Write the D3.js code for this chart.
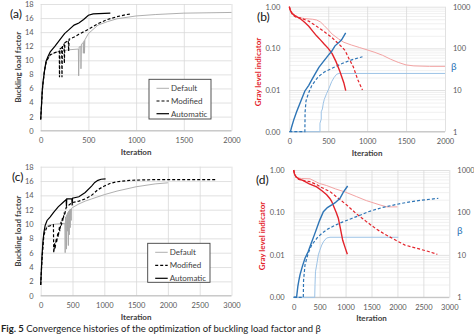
<!DOCTYPE html>
<html><head><meta charset="utf-8">
<script src="https://cdn.jsdelivr.net/npm/d3@7"></script>
<style>
body{margin:0;background:#fff}
svg{display:block}
text{font-family:Lato,"Open Sans",sans-serif}
</style>
</head><body>
<svg id="chart" width="474" height="335"></svg>
<script>
// ---------- tick labels / categories ----------
const iterTicksA = [0, 500, 1000, 1500, 2000];
const iterTicksC = [0, 500, 1000, 1500, 2000, 2500, 3000];
const loadTicks = [0, 2, 4, 6, 8, 10, 12, 14, 16, 18];
const grayTicks = [0.001, 0.01, 0.1, 1];
const grayTickLabels = ["0.00", "0.01", "0.10", "1.00"];
const betaTicks = [1, 10, 100, 1000];
const legendLabels = ["Default", "Modified", "Automatic"];

// ---------- panel (a): [iteration, buckling load factor] ----------
const aDefault = [[0,1.6],[10,4],[20,6],[40,8.5],[60,9.8],[100,10.7],[150,11.1],[200,11.3],[300,11.5],[395,11.6],[398,7.8],[403,11.9],[420,12],[422,8.8],[427,12.3],[445,12.5],[447,11],[452,12.7],[457,12.8],[459,11],[463,12.9],[500,13.8],[600,15],[700,15.5],[800,15.9],[1000,16.3],[1200,16.5],[1500,16.7],[2000,16.8]];
const aModified = [[0,1.6],[10,4],[20,6.2],[40,8.6],[60,9.9],[100,10.8],[150,11.1],[195,11.3],[197,7.6],[202,11.6],[220,11.8],[223,7.6],[228,12.1],[245,12.3],[248,9.6],[253,12.5],[290,12.8],[293,11.3],[298,13],[350,13.3],[400,13.7],[500,14.4],[600,15.2],[700,15.8],[800,16.2],[900,16.5],[950,16.6]];
const aAutomatic = [[0,1.6],[8,3.5],[15,5.5],[25,7],[40,8.5],[55,9.8],[75,10.5],[100,11.2],[150,12],[200,12.9],[250,13.8],[300,14.4],[350,15],[400,15.3],[450,15.8],[500,16.4],[550,16.6],[730,16.7]];

// ---------- panel (c): [iteration, buckling load factor] ----------
const cDefault = [[0,1.5],[20,5],[40,8],[60,9],[100,9.7],[150,9.9],[250,10],[380,10.1],[385,6],[390,11],[400,10.5],[405,6.5],[410,11.3],[420,9],[425,11.6],[435,7],[440,11.8],[450,8.5],[455,12],[465,9.5],[470,12.1],[480,10.5],[485,12.2],[500,12.3],[600,12.8],[700,13.2],[800,13.5],[1000,14.1],[1200,14.6],[1500,15.2],[1800,15.6],[2000,15.75]];
const cModified = [[0,1.5],[20,5],[50,8.5],[100,9.6],[200,9.9],[205,6],[220,7.3],[225,6.5],[245,8],[250,7.4],[270,8.8],[275,8.2],[295,9.6],[300,9],[320,10.3],[325,9.8],[345,11],[350,10.5],[370,11.6],[375,11.2],[400,12.3],[450,12.7],[500,13],[600,13.2],[700,13.5],[800,14],[900,14.8],[1000,15.3],[1100,15.7],[1200,15.9],[1400,16.1],[1800,16.2],[2750,16.2]];
const cAutomatic = [[0,1.5],[10,3.5],[20,5.5],[35,7.5],[50,8.8],[70,9.8],[100,10.5],[150,11],[200,11.6],[275,12.4],[350,13],[400,13.4],[405,12.4],[410,13.5],[490,13.5],[495,12.6],[500,13.6],[600,13.8],[700,14.4],[800,15.3],[850,15.8],[900,16.1],[950,16.25],[1020,16.3]];

// ---------- panel (b): gray level indicator [iteration, value] and beta [iteration, value] ----------
const bGrayDefault = [[0,1],[15,0.8],[50,0.62],[100,0.55],[200,0.52],[300,0.5],[350,0.48],[400,0.43],[450,0.35],[500,0.28],[550,0.22],[630,0.17],[700,0.14],[800,0.12],[900,0.105],[1000,0.092],[1100,0.08],[1200,0.068],[1300,0.055],[1400,0.046],[1500,0.04],[1600,0.038],[1800,0.037],[2000,0.037]];
const bGrayModified = [[0,1],[15,0.8],[40,0.65],[80,0.57],[150,0.53],[250,0.45],[350,0.34],[450,0.25],[550,0.18],[650,0.12],[715,0.09],[770,0.055],[822,0.036],[878,0.018],[940,0.01]];
const bGrayAutomatic = [[0,1],[15,0.8],[40,0.68],[80,0.6],[150,0.5],[200,0.42],[250,0.34],[300,0.26],[350,0.2],[400,0.16],[450,0.125],[500,0.1],[550,0.075],[600,0.048],[650,0.028],[700,0.015],[725,0.0097]];
const bBetaDefault = [[0,1],[394,1],[394,1.6],[410,2],[410,3],[425,3.5],[437,4.8],[450,6],[480,8.3],[510,11],[545,16],[575,20],[609,24],[640,25],[2000,25]];
const bBetaModified = [[0,1],[200,1],[203,3],[215,5.5],[245,8.3],[290,13],[373,21],[450,27],[587,36],[700,45],[801,53],[940,63]];
const bBetaAutomatic = [[15,1],[30,1.3],[60,2],[94,3],[150,5.5],[200,9.5],[250,13],[288,17.5],[330,24],[380,35],[437,48],[500,68],[544,85],[587,115],[640,140],[672,160],[724,235]];

// ---------- panel (d) ----------
const dGrayDefault = [[0,1],[15,0.8],[50,0.66],[150,0.63],[314,0.62],[400,0.55],[500,0.48],[636,0.43],[800,0.36],[1000,0.3],[1215,0.235],[1400,0.19],[1664,0.15],[1800,0.135],[2000,0.135]];
const dGrayModified = [[0,1],[15,0.8],[50,0.67],[100,0.6],[200,0.56],[314,0.53],[450,0.45],[550,0.38],[700,0.31],[850,0.22],[1022,0.15],[1200,0.095],[1407,0.06],[1600,0.04],[1793,0.029],[2000,0.021],[2146,0.017],[2400,0.014],[2600,0.012],[2769,0.0103]];
const dGrayAutomatic = [[0,1],[15,0.8],[50,0.68],[100,0.62],[185,0.56],[300,0.47],[443,0.4],[550,0.32],[636,0.26],[700,0.21],[733,0.18],[780,0.13],[820,0.1],[860,0.073],[900,0.042],[945,0.022],[990,0.015],[1034,0.0103]];
const dBetaDefault = [[0,1],[405,1],[411,2],[420,4],[450,6.5],[475,10],[500,12.5],[540,17],[580,21],[636,25],[700,26],[2017,26]];
const dBetaModified = [[0,1],[185,1],[190,2.5],[218,5.8],[280,11],[347,17],[450,25],[540,32],[650,40],[797,50],[950,60],[1118,72],[1300,88],[1439,104],[1700,130],[2081,164],[2400,190],[2788,215]];
const dBetaAutomatic = [[0,1],[55,1],[80,1.8],[100,2.5],[122,3.4],[170,5.5],[218,8.3],[280,12],[347,20],[400,30],[443,42],[500,65],[572,104],[650,130],[733,150],[800,170],[893,215],[957,300],[1040,420]];

// ---------- styles ----------
const GRID = "#d9d9d9", MINOR = "#ececec", TICK = "#595959", TITLE = "#404040";
const RED = "#e3232b", REDL = "#f3a3a3", BLUE = "#2e75b6", BLUEL = "#9dc3e6";

const svg = d3.select("#chart");

function lineGen(x, y) {
  return d3.line().x(d => x(d[0])).y(d => y(d[1]));
}

function drawLoadPanel(o) {
  const g = svg.append("g");
  const x = d3.scaleLinear().domain([0, o.xmax]).range([o.x0, o.x1]);
  const y = d3.scaleLinear().domain([0, 18]).range([o.y0, o.y1]);
  g.append("g").attr("transform", `translate(0,${o.y0})`)
    .call(d3.axisBottom(x).tickValues(o.xticks).tickSize(-(o.y0 - o.y1)).tickFormat(""))
    .call(s => s.select(".domain").remove())
    .call(s => s.selectAll("line").attr("stroke", GRID).attr("stroke-width", 0.8));
  g.append("g").attr("transform", `translate(${o.x0},0)`)
    .call(d3.axisLeft(y).tickValues(loadTicks).tickSize(-(o.x1 - o.x0)).tickFormat(""))
    .call(s => s.select(".domain").remove())
    .call(s => s.selectAll("line").attr("stroke", GRID).attr("stroke-width", 0.8));
  g.append("line").attr("x1", o.x0).attr("x2", o.x1).attr("y1", o.y0).attr("y2", o.y0).attr("stroke", "#bfbfbf");
  g.append("g").attr("transform", `translate(0,${o.y0 + 4})`)
    .call(d3.axisBottom(x).tickValues(o.xticks).tickSize(0).tickFormat(d3.format("d")))
    .call(s => s.select(".domain").remove())
    .call(s => s.selectAll("text").attr("fill", TICK).attr("font-size", 7.5));
  g.append("g").attr("transform", `translate(${o.x0 - 4},0)`)
    .call(d3.axisLeft(y).tickValues(loadTicks).tickSize(0).tickFormat(d3.format("d")))
    .call(s => s.select(".domain").remove())
    .call(s => s.selectAll("text").attr("fill", TICK).attr("font-size", 7.5));
  const lg = lineGen(x, y);
  g.append("path").attr("d", lg(o.def)).attr("fill", "none").attr("stroke", "#a6a6a6").attr("stroke-width", 0.9);
  g.append("path").attr("d", lg(o.mod)).attr("fill", "none").attr("stroke", "#000").attr("stroke-width", 1.2).attr("stroke-dasharray", "3,2");
  g.append("path").attr("d", lg(o.auto)).attr("fill", "none").attr("stroke", "#000").attr("stroke-width", 1.2);
  g.append("text").attr("x", (o.x0 + o.x1) / 2).attr("y", o.y0 + 24).attr("text-anchor", "middle")
    .attr("font-size", 8).attr("font-weight", "bold").attr("fill", TITLE).text("Iteration");
  g.append("text").attr("transform", `translate(${o.ytx},${(o.y0 + o.y1) / 2}) rotate(-90)`)
    .attr("text-anchor", "middle").attr("font-size", 8).attr("font-weight", "bold").attr("fill", TITLE).text("Buckling load factor");
  g.append("text").attr("x", o.lx).attr("y", o.ly).attr("font-size", 12).attr("fill", "#111").text(o.label);
  const L = o.legend;
  g.append("rect").attr("x", L.x).attr("y", L.y).attr("width", L.w).attr("height", L.h)
    .attr("fill", "#fff").attr("stroke", "#404040").attr("stroke-width", 0.9);
  const styles = [{c: "#a6a6a6", w: 0.9, d: null}, {c: "#000", w: 1.2, d: "3,2"}, {c: "#000", w: 1.2, d: null}];
  legendLabels.forEach((t, i) => {
    const yy = L.y + 9 + i * L.step;
    g.append("line").attr("x1", L.x + 7.5).attr("x2", L.x + 20).attr("y1", yy).attr("y2", yy)
      .attr("stroke", styles[i].c).attr("stroke-width", styles[i].w).attr("stroke-dasharray", styles[i].d);
    g.append("text").attr("x", L.x + 22).attr("y", yy + 2.8).attr("font-size", 8).attr("fill", TITLE).text(t);
  });
}

function drawGrayPanel(o) {
  const g = svg.append("g");
  const x = d3.scaleLinear().domain([0, o.xmax]).range([o.x0, o.x1]);
  const yL = d3.scaleLog().domain([0.001, 1]).range([o.y0, o.y1]);
  const yR = d3.scaleLog().domain([1, 1000]).range([o.y0, o.y1]);
  const minors = [];
  [0.001, 0.01, 0.1].forEach(b => { for (let k = 2; k <= 9; k++) minors.push(b * k); });
  g.append("g").attr("transform", `translate(${o.x0},0)`)
    .call(d3.axisLeft(yL).tickValues(minors).tickSize(-(o.x1 - o.x0)).tickFormat(""))
    .call(s => s.select(".domain").remove())
    .call(s => s.selectAll("line").attr("stroke", MINOR).attr("stroke-width", 0.8));
  g.append("g").attr("transform", `translate(0,${o.y0})`)
    .call(d3.axisBottom(x).tickValues(o.xticks).tickSize(-(o.y0 - o.y1)).tickFormat(""))
    .call(s => s.select(".domain").remove())
    .call(s => s.selectAll("line").attr("stroke", GRID).attr("stroke-width", 0.8));
  g.append("g").attr("transform", `translate(${o.x0},0)`)
    .call(d3.axisLeft(yL).tickValues(grayTicks).tickSize(-(o.x1 - o.x0)).tickFormat(""))
    .call(s => s.select(".domain").remove())
    .call(s => s.selectAll("line").attr("stroke", GRID).attr("stroke-width", 0.8));
  g.append("line").attr("x1", o.x0).attr("x2", o.x1).attr("y1", o.y0).attr("y2", o.y0).attr("stroke", "#bfbfbf");
  g.append("g").attr("transform", `translate(0,${o.y0 + 4})`)
    .call(d3.axisBottom(x).tickValues(o.xticks).tickSize(0).tickFormat(d3.format("d")))
    .call(s => s.select(".domain").remove())
    .call(s => s.selectAll("text").attr("fill", TICK).attr("font-size", 7.5));
  g.append("g").attr("transform", `translate(${o.x0 - 6},0)`)
    .call(d3.axisLeft(yL).tickValues(grayTicks).tickSize(0).tickFormat((d, i) => grayTickLabels[i]))
    .call(s => s.select(".domain").remove())
    .call(s => s.selectAll("text").attr("fill", TICK).attr("font-size", 7.5));
  g.append("g").attr("transform", `translate(${o.x1 + 5},0)`)
    .call(d3.axisRight(yR).tickValues(betaTicks).tickSize(0).tickFormat(d3.format("d")))
    .call(s => s.select(".domain").remove())
    .call(s => s.selectAll("text").attr("fill", TICK).attr("font-size", 7.5));
  const lL = lineGen(x, yL), lR = lineGen(x, yR);
  const add = (d, gen, c, w, dash) => g.append("path").attr("d", gen(d)).attr("fill", "none")
    .attr("stroke", c).attr("stroke-width", w).attr("stroke-dasharray", dash);
  add(o.gDef, lL, REDL, 1, null);
  add(o.bDef, lR, BLUEL, 1, null);
  add(o.gMod, lL, RED, 1.2, "3,2");
  add(o.bMod, lR, BLUE, 1.2, "3,2");
  add(o.gAuto, lL, RED, 1.4, null);
  add(o.bAuto, lR, BLUE, 1.4, null);
  g.append("text").attr("x", (o.x0 + o.x1) / 2).attr("y", o.y0 + 24).attr("text-anchor", "middle")
    .attr("font-size", 8).attr("font-weight", "bold").attr("fill", TITLE).text("Iteration");
  g.append("text").attr("transform", `translate(${o.gtx},${o.gty}) rotate(-90)`)
    .attr("text-anchor", "middle").attr("font-size", 8).attr("font-weight", "bold").attr("fill", RED).text("Gray level indicator");
  g.append("text").attr("x", o.btx).attr("y", o.bty).attr("font-size", 10).attr("fill", BLUE).text("β");
  g.append("text").attr("x", o.lx).attr("y", o.ly).attr("font-size", 12).attr("fill", "#111").text(o.label);
}

drawLoadPanel({x0: 40.7, x1: 231.5, y0: 130.7, y1: 4, xmax: 2000, xticks: iterTicksA,
  def: aDefault, mod: aModified, auto: aAutomatic, ytx: 21, lx: 10, ly: 17.5, label: "(a)",
  legend: {x: 149, y: 79.3, w: 62, h: 39.7, step: 12.7}});
drawLoadPanel({x0: 40.7, x1: 231.5, y0: 295.7, y1: 166.7, xmax: 3000, xticks: iterTicksC,
  def: cDefault, mod: cModified, auto: cAutomatic, ytx: 21, lx: 12, ly: 181, label: "(c)",
  legend: {x: 147.7, y: 243.3, w: 62.3, h: 39, step: 13}});
drawGrayPanel({x0: 289.3, x1: 445, y0: 131.7, y1: 6.7, xmax: 2000, xticks: iterTicksA,
  gDef: bGrayDefault, gMod: bGrayModified, gAuto: bGrayAutomatic,
  bDef: bBetaDefault, bMod: bBetaModified, bAuto: bBetaAutomatic,
  gtx: 261, gty: 72, btx: 451, bty: 70, lx: 257, ly: 21, label: "(b)"});
drawGrayPanel({x0: 293.7, x1: 449.3, y0: 297.3, y1: 170, xmax: 3000, xticks: iterTicksC,
  gDef: dGrayDefault, gMod: dGrayModified, gAuto: dGrayAutomatic,
  bDef: dBetaDefault, bMod: dBetaModified, bAuto: dBetaAutomatic,
  gtx: 265, gty: 236, btx: 457, bty: 234, lx: 256, ly: 184, label: "(d)"});

// caption line at the bottom edge
const cap = svg.append("text").attr("x", 1).attr("y", 332.3).attr("font-size", 9.5).attr("fill", "#222");
cap.append("tspan").attr("font-weight", "bold").text("Fig. 5");
cap.append("tspan").text("  Convergence histories of the optimization of buckling load factor and β");
</script>
</body></html>
